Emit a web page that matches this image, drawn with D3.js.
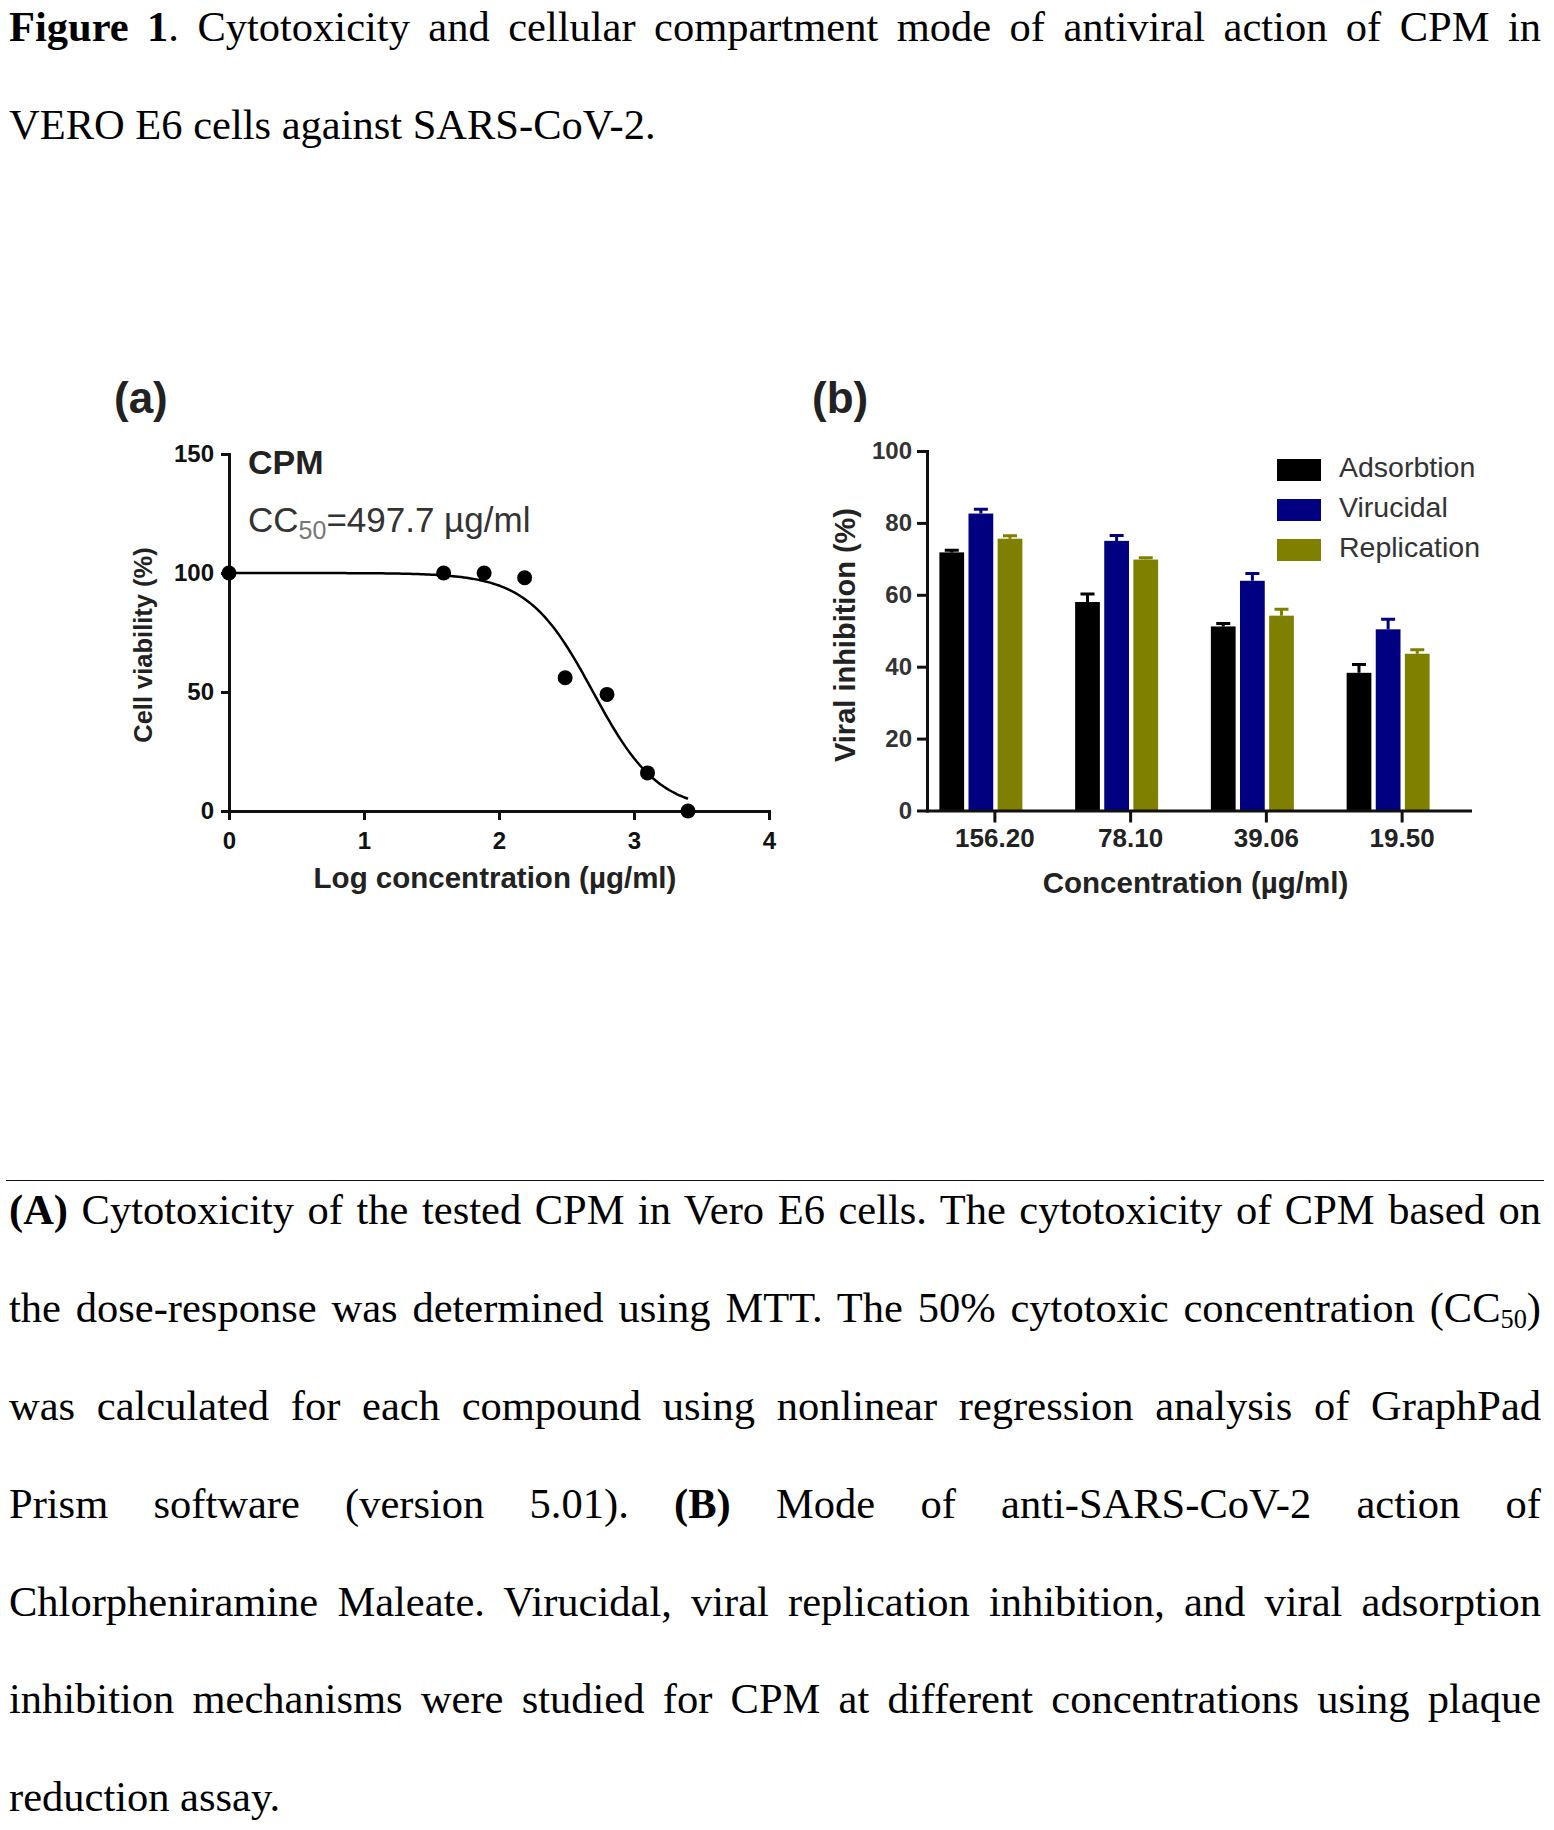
<!DOCTYPE html>
<html>
<head>
<meta charset="utf-8">
<script src="https://cdn.jsdelivr.net/npm/d3@7"></script>
<style>
  html, body { margin: 0; padding: 0; background: #fff; overflow: hidden; }
  #page { position: relative; width: 1554px; height: 1830px; }
  svg { position: absolute; left: 0; top: 0; }
  .cap { position: absolute; left: 9px; width: 1532px; font-family: "Liberation Serif", "Times New Roman", serif;
         font-size: 42.5px; line-height: 42.5px; color: #000; }
  .just { text-align: justify; text-align-last: justify; }
  .sub { font-size: 0.62em; vertical-align: -0.22em; line-height: 0; }
  #rule { position: absolute; left: 6px; top: 1180px; width: 1538px; border-top: 1.5px solid #111; }
</style>
</head>
<body>
<div id="page">
  <svg id="fig" width="1554" height="1830"></svg>
  <div id="rule"></div>
</div>
<script>
// panel (a): cytotoxicity (log concentration vs viability)
var logConc = [0, 1.59, 1.89, 2.19, 2.49, 2.80, 3.10, 3.40];
var viability = [100, 100, 100, 98, 56, 49, 16, 0];
var xTicksA = [0, 1, 2, 3, 4];
var yTicksA = [0, 50, 100, 150];
// fitted dose-response (GraphPad 4PL) parameters
var fitTop = 100, fitBottom = 0, cc50 = 497.7, hillSlope = 1.8;

// panel (b): mode of action, inhibition (%) per concentration
var concLabels = ["156.20", "78.10", "39.06", "19.50"];
var seriesNames = ["Adsorbtion", "Virucidal", "Replication"];
var seriesColors = ["#000000", "#000080", "#808000"];
var adsorbtion = [71.8, 58.0, 51.2, 38.3];
var adsorbtionErr = [0.6, 2.2, 0.8, 2.3];
var virucidal = [82.6, 75.0, 63.9, 50.4];
var virucidalErr = [1.2, 1.5, 2.0, 2.8];
var replication = [75.6, 69.8, 54.2, 43.6];
var replicationErr = [0.8, 0.5, 1.8, 1.1];
var yTicksB = [0, 20, 40, 60, 80, 100];

// caption text
var topLines = [
  ["<b>Figure 1</b>. Cytotoxicity and cellular compartment mode of antiviral action of CPM in", true],
  ["VERO E6 cells against SARS-CoV-2.", false]
];
var bottomLines = [
  ["<b>(A)</b> Cytotoxicity of the tested CPM in Vero E6 cells. The cytotoxicity of CPM based on", true],
  ["the dose-response was determined using MTT. The 50% cytotoxic concentration (CC<span class='sub'>50</span>)", true],
  ["was calculated for each compound using nonlinear regression analysis of GraphPad", true],
  ["Prism software (version 5.01). <b>(B)</b> Mode of anti-SARS-CoV-2 action of", true],
  ["Chlorpheniramine Maleate. Virucidal, viral replication inhibition, and viral adsorption", true],
  ["inhibition mechanisms were studied for CPM at different concentrations using plaque", true],
  ["reduction assay.", false]
];

var sans = "'Liberation Sans', Arial, Helvetica, sans-serif";
var page = d3.select("#page");

// caption lines, one block per line so the breaks match the figure
function addLines(lines, firstBaseline, step) {
  lines.forEach(function(l, i) {
    page.append("div")
      .attr("class", l[1] ? "cap just" : "cap")
      .style("top", (firstBaseline + i * step - 35.6) + "px")
      .html(l[0]);
  });
}
addLines(topLines, 42, 97.5);
addLines(bottomLines, 1225, 97.8);

var svg = d3.select("#fig");

function styleAxis(g, size, color) {
  g.attr("font-family", sans).attr("font-size", size).attr("font-weight", "bold");
  g.select(".domain").attr("stroke", "#111").attr("stroke-width", 3).attr("stroke-linecap", "square");
  g.selectAll(".tick line").attr("stroke", "#111").attr("stroke-width", 3);
  g.selectAll(".tick text").attr("fill", color);
}

// ================= panel (a) =================
var xa = d3.scaleLinear().domain([0, 4]).range([229, 769]);
var ya = d3.scaleLinear().domain([0, 150]).range([811, 454]);
var gA = svg.append("g");

// fitted curve
var curve = d3.range(0, 3.401, 0.02).map(function(x) {
  return [x, fitBottom + (fitTop - fitBottom) / (1 + Math.pow(10, (x - Math.log10(cc50)) * hillSlope))];
});
gA.append("path")
  .datum(curve)
  .attr("fill", "none")
  .attr("stroke", "#000")
  .attr("stroke-width", 2.5)
  .attr("d", d3.line().x(function(d) { return xa(d[0]); }).y(function(d) { return ya(d[1]); }));

gA.append("g")
  .attr("transform", "translate(0," + ya(0) + ")")
  .call(d3.axisBottom(xa).tickValues(xTicksA).tickFormat(d3.format("d")).tickSize(9).tickSizeOuter(0).tickPadding(12))
  .call(styleAxis, 24, "#111");

gA.append("g")
  .attr("transform", "translate(" + xa(0) + ",0)")
  .call(d3.axisLeft(ya).tickValues(yTicksA).tickSize(8).tickSizeOuter(0).tickPadding(7))
  .call(styleAxis, 24, "#111");

// data points
gA.selectAll("circle.pt")
  .data(logConc)
  .enter()
  .append("circle")
  .attr("class", "pt")
  .attr("cx", function(d) { return xa(d); })
  .attr("cy", function(d, i) { return ya(viability[i]); })
  .attr("r", 7.5)
  .attr("fill", "#000");

gA.append("text")
  .attr("x", 114).attr("y", 413)
  .attr("font-family", sans).attr("font-size", 44).attr("font-weight", "bold").attr("fill", "#222")
  .text("(a)");

gA.append("text")
  .attr("x", 248).attr("y", 474)
  .attr("font-family", sans).attr("font-size", 34).attr("font-weight", "bold").attr("fill", "#222")
  .text("CPM");

var cc = gA.append("text")
  .attr("x", 248).attr("y", 532)
  .attr("font-family", sans).attr("font-size", 35).attr("fill", "#333");
cc.append("tspan").text("CC");
cc.append("tspan").attr("font-size", 25).attr("dy", 7).attr("fill", "#777").text("50");
cc.append("tspan").attr("dy", -7).text("=" + cc50 + " \u00b5g/ml");

gA.append("text")
  .attr("x", d3.mean(xa.range()) - 4).attr("y", 888)
  .attr("text-anchor", "middle")
  .attr("font-family", sans).attr("font-size", 29.5).attr("font-weight", "bold").attr("fill", "#222")
  .text("Log concentration (\u00b5g/ml)");

gA.append("text")
  .attr("transform", "translate(152,645) rotate(-90)")
  .attr("text-anchor", "middle")
  .attr("font-family", sans).attr("font-size", 25.5).attr("font-weight", "bold").attr("fill", "#222")
  .text("Cell viability (%)");

// ================= panel (b) =================
var xb = d3.scaleBand().domain(concLabels).range([927, 1470]);
var yb = d3.scaleLinear().domain([0, 100]).range([810.5, 451]);
var groupShift = -14, groupW = 83;   // Prism draws the groups a bit left of the tick
var xInner = d3.scaleBand().domain(seriesNames).range([0, groupW]).paddingInner(0.15);
var values = [adsorbtion, virucidal, replication];
var errors = [adsorbtionErr, virucidalErr, replicationErr];

var rows = [];
concLabels.forEach(function(c, i) {
  seriesNames.forEach(function(s, j) {
    rows.push({conc: c, s: s, j: j, v: values[j][i], e: errors[j][i]});
  });
});
function barX(d) { return xb(d.conc) + xb.bandwidth() / 2 + groupShift - groupW / 2 + xInner(d.s); }

var gB = svg.append("g");

// error bars (upper only)
gB.selectAll("path.err")
  .data(rows)
  .enter()
  .append("path")
  .attr("class", "err")
  .attr("fill", "none")
  .attr("stroke", function(d) { return seriesColors[d.j]; })
  .attr("stroke-width", 3)
  .attr("d", function(d) {
    var cx = barX(d) + xInner.bandwidth() / 2, y1 = yb(d.v), y2 = yb(d.v + d.e);
    return "M" + cx + "," + y1 + "V" + y2 + "M" + (cx - 7) + "," + y2 + "H" + (cx + 7);
  });

gB.selectAll("rect.bar")
  .data(rows)
  .enter()
  .append("rect")
  .attr("class", "bar")
  .attr("x", barX)
  .attr("y", function(d) { return yb(d.v); })
  .attr("width", xInner.bandwidth())
  .attr("height", function(d) { return yb(0) - yb(d.v); })
  .attr("fill", function(d) { return seriesColors[d.j]; });

gB.append("g")
  .attr("transform", "translate(0," + yb(0) + ")")
  .call(d3.axisBottom(xb).tickSize(12).tickSizeOuter(0).tickPadding(6))
  .call(styleAxis, 26, "#222");

gB.append("g")
  .attr("transform", "translate(927,0)")
  .call(d3.axisLeft(yb).tickValues(yTicksB).tickSize(10).tickSizeOuter(0).tickPadding(5))
  .call(styleAxis, 24, "#333");

// legend
var leg = gB.selectAll("g.leg")
  .data(seriesNames)
  .enter()
  .append("g")
  .attr("class", "leg")
  .attr("transform", function(d, i) { return "translate(1277," + (459 + i * 40) + ")"; });
leg.append("rect")
  .attr("width", 44).attr("height", 22)
  .attr("fill", function(d, i) { return seriesColors[i]; });
leg.append("text")
  .attr("x", 62).attr("y", 18)
  .attr("font-family", sans).attr("font-size", 28.5).attr("fill", "#333")
  .text(function(d) { return d; });

gB.append("text")
  .attr("x", 812).attr("y", 413)
  .attr("font-family", sans).attr("font-size", 44).attr("font-weight", "bold").attr("fill", "#222")
  .text("(b)");

gB.append("text")
  .attr("x", d3.mean(xb.range()) - 3).attr("y", 893)
  .attr("text-anchor", "middle")
  .attr("font-family", sans).attr("font-size", 29.5).attr("font-weight", "bold").attr("fill", "#222")
  .text("Concentration (\u00b5g/ml)");

gB.append("text")
  .attr("transform", "translate(855,635) rotate(-90)")
  .attr("text-anchor", "middle")
  .attr("font-family", sans).attr("font-size", 29).attr("font-weight", "bold").attr("fill", "#222")
  .text("Viral inhibition (%)");
</script>
</body>
</html>
